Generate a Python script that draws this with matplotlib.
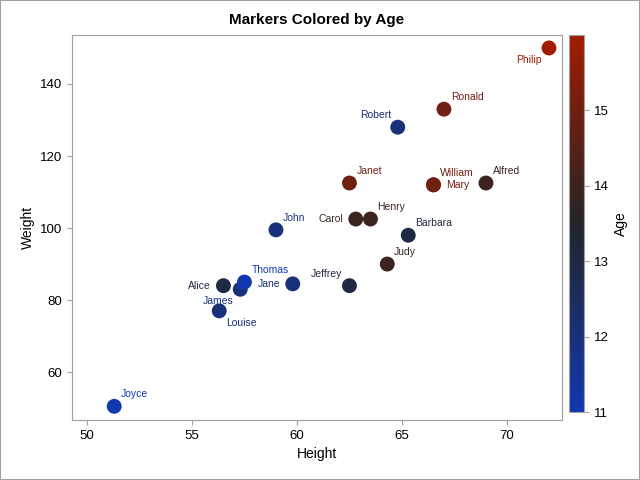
import matplotlib
matplotlib.use("Agg")
import matplotlib.pyplot as plt
from matplotlib.colors import LinearSegmentedColormap, Normalize

plt.rcParams['font.family'] = ['Liberation Sans', 'DejaVu Sans']

# sashelp.class
nombres = ["Alfred", "Alice", "Barbara", "Carol", "Henry", "James", "Jane", "Janet",
           "Jeffrey", "John", "Joyce", "Judy", "Louise", "Mary", "Philip", "Robert",
           "Ronald", "Thomas", "William"]
edad = [14, 13, 13, 14, 14, 12, 12, 15, 13, 12, 11, 14, 12, 15, 16, 12, 15, 11, 15]
altura = [69.0, 56.5, 65.3, 62.8, 63.5, 57.3, 59.8, 62.5, 62.5, 59.0, 51.3, 64.3,
          56.3, 66.5, 72.0, 64.8, 67.0, 57.5, 66.5]
peso = [112.5, 84.0, 98.0, 102.5, 102.5, 83.0, 84.5, 112.5, 84.0, 99.5, 50.5, 90.0,
        77.0, 112.0, 150.0, 128.0, 133.0, 85.0, 112.0]
# posicion de la etiqueta respecto al punto
posicion = {"Alfred": "ur", "Alice": "l", "Barbara": "ur", "Carol": "l", "Henry": "ur",
            "James": "ll", "Jane": "l", "Janet": "ur", "Jeffrey": "ul", "John": "ur",
            "Joyce": "ur", "Judy": "ur", "Louise": "lr", "Mary": "r", "Philip": "ll",
            "Robert": "ul", "Ronald": "ur", "Thomas": "ur", "William": "ur"}

cmap = LinearSegmentedColormap.from_list(
    "edad", [(0.0, "#1238b0"), (0.5, "#232528"), (1.0, "#a21c00")])
norm = Normalize(vmin=11, vmax=16)

fig = plt.figure(figsize=(6.4, 4.8), dpi=100)
ax = fig.add_axes([72/640, 60/480, 490/640, 385/480])
cax = fig.add_axes([569/640, 68/480, 15/640, 377/480])

sc = ax.scatter(altura, peso, c=edad, cmap=cmap, norm=norm, s=115, zorder=3,
                edgecolors="none")

offsets = {"ur": (5, 5, "left", "bottom"), "ul": (-5, 5, "right", "bottom"),
           "lr": (5, -5, "left", "top"), "ll": (-5, -5, "right", "top"),
           "l": (-9, 0, "right", "center"), "r": (9, 0, "left", "center")}
for n, x, y, e in zip(nombres, altura, peso, edad):
    dx, dy, ha, va = offsets[posicion[n]]
    ax.annotate(n, (x, y), xytext=(dx, dy), textcoords="offset points",
                ha=ha, va=va, fontsize=7.5, color=cmap(norm(e)))

ax.set_xlim(49.29, 72.62)
ax.set_ylim(46.7, 153.6)
ax.set_xticks([50, 55, 60, 65, 70])
ax.set_yticks([60, 80, 100, 120, 140])
ax.set_xlabel("Height", fontsize=10)
ax.set_ylabel("Weight", fontsize=10)
ax.set_title("Markers Colored by Age", fontsize=11, fontweight="bold", pad=8)
for s in ax.spines.values():
    s.set_color("#a0a0a0")
ax.tick_params(colors="#a0a0a0", labelcolor="black", labelsize=9.5)

cb = fig.colorbar(sc, cax=cax)
cb.set_ticks([11, 12, 13, 14, 15])
cb.set_label("Age", fontsize=10)
cb.outline.set_edgecolor("#a0a0a0")
cax.tick_params(colors="#a0a0a0", labelcolor="black", labelsize=9.5)

fig.patches.append(plt.Rectangle((0, 0), 1, 1, transform=fig.transFigure,
                                 fill=False, edgecolor="#a0a0a0", linewidth=1.5))

plt.savefig("out.png")
